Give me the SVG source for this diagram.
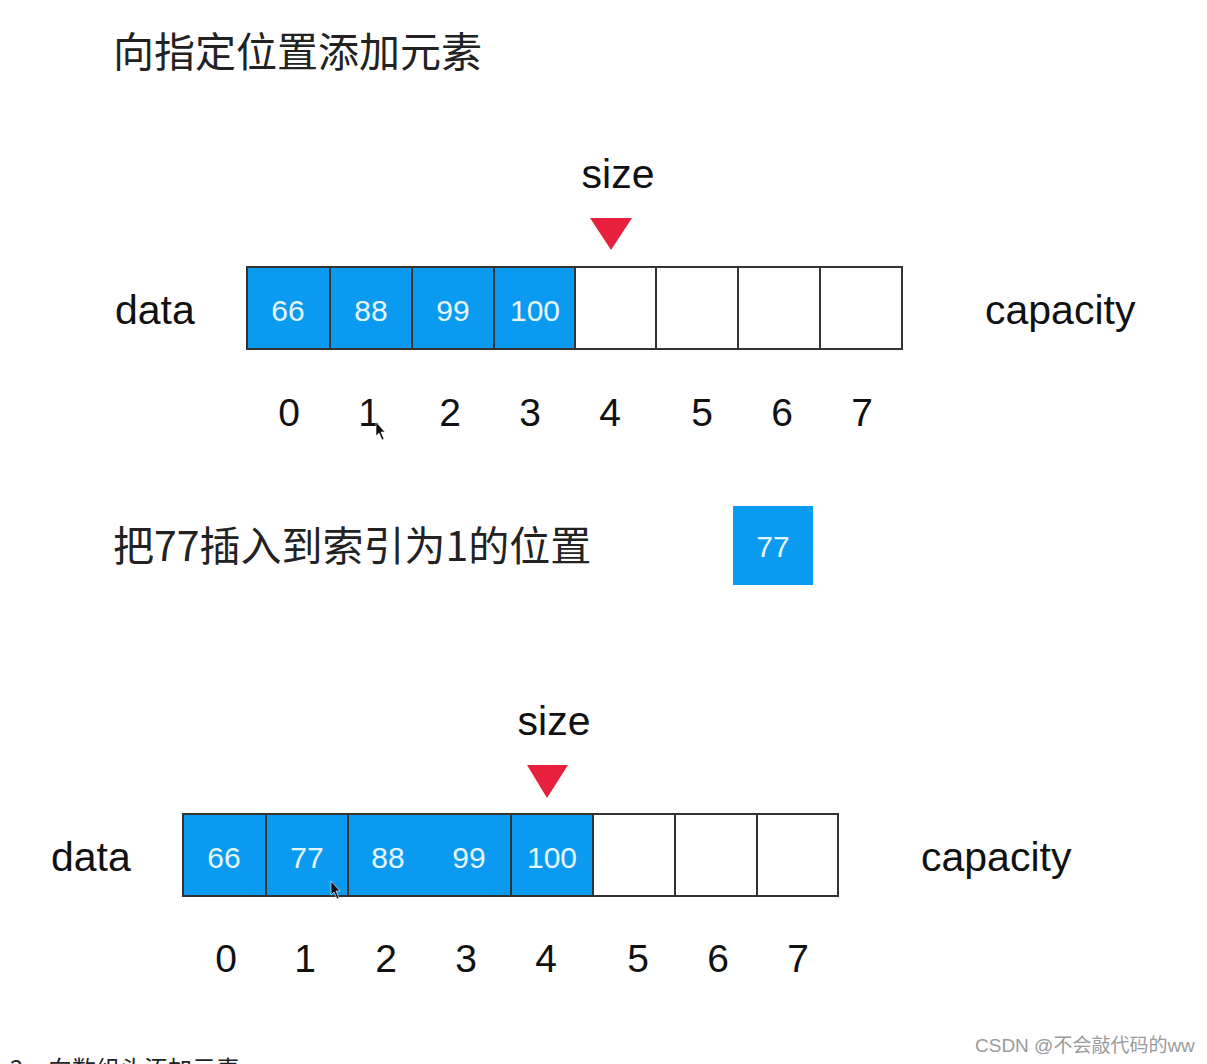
<svg xmlns="http://www.w3.org/2000/svg" width="1207" height="1064" viewBox="0 0 1207 1064">
<style>
.cjk{font-family:"Noto Sans CJK SC","Liberation Sans",sans-serif;fill:#222}
.lbl{font-family:"Liberation Sans",Arial,sans-serif;font-size:41px;fill:#111}
.idx{font-family:"Liberation Sans",Arial,sans-serif;font-size:39px;fill:#111;text-anchor:middle}
.val{font-family:"Liberation Sans",Arial,sans-serif;font-size:30px;fill:#e6f5ff;text-anchor:middle}
.blue{fill:#0A9BF0}
.cell{fill:#fff}
.frame{fill:none;stroke:#333;stroke-width:2}
.tri{fill:#E8203D}
.cur{fill:#111;stroke:#fff;stroke-width:0.6}
</style>
<rect width="1207" height="1064" fill="#fff"/>
<text class="cjk" x="113" y="67" font-size="41">向指定位置添加元素</text>

<g id="top-array">
  <rect class="blue" x="247" y="267" width="328" height="82"/>
  <rect class="cell" x="575" y="267" width="327" height="82"/>
  <rect class="frame" x="247" y="267" width="655" height="82"/>
  <path d="M330 267V349M412 267V349M494 267V349M575 267V349M656 267V349M738 267V349M820 267V349" stroke="#333" stroke-width="2"/>
  <text class="val" x="288" y="321">66</text>
  <text class="val" x="371" y="321">88</text>
  <text class="val" x="453" y="321">99</text>
  <text class="val" x="535" y="321">100</text>
</g>
<g id="top-labels">
  <text class="lbl" x="115" y="324">data</text>
  <text class="lbl" x="985" y="324">capacity</text>
  <text class="lbl" x="618" y="188" text-anchor="middle">size</text>
  <polygon class="tri" points="590,218 632,218 611,250"/>
  <text class="idx" x="289" y="426">0</text>
  <text class="idx" x="369" y="426">1</text>
  <text class="idx" x="450" y="426">2</text>
  <text class="idx" x="530" y="426">3</text>
  <text class="idx" x="610" y="426">4</text>
  <text class="idx" x="702" y="426">5</text>
  <text class="idx" x="782" y="426">6</text>
  <text class="idx" x="862" y="426">7</text>
  <polygon class="cur" points="376,422 376,436 379,433 382,440 384,439 381,432 385,432"/>
</g>

<text class="cjk" x="113" y="561" font-size="41">把77插入到索引为1的位置</text>
<g id="box77">
  <rect class="blue" x="733" y="506" width="80" height="79"/>
  <text class="val" x="773" y="557">77</text>
</g>

<g id="bottom-array">
  <rect class="blue" x="183" y="814" width="410" height="82"/>
  <rect class="cell" x="593" y="814" width="245" height="82"/>
  <rect class="frame" x="183" y="814" width="655" height="82"/>
  <path d="M266 814V896M348 814V896M511 814V896M593 814V896M675 814V896M757 814V896" stroke="#333" stroke-width="2"/>
  <text class="val" x="224" y="868">66</text>
  <text class="val" x="307" y="868">77</text>
  <text class="val" x="388" y="868">88</text>
  <text class="val" x="469" y="868">99</text>
  <text class="val" x="552" y="868">100</text>
</g>
<g id="bottom-labels">
  <text class="lbl" x="51" y="871">data</text>
  <text class="lbl" x="921" y="871">capacity</text>
  <text class="lbl" x="554" y="735" text-anchor="middle">size</text>
  <polygon class="tri" points="527,765 568,765 547,798"/>
  <text class="idx" x="226" y="972">0</text>
  <text class="idx" x="305" y="972">1</text>
  <text class="idx" x="386" y="972">2</text>
  <text class="idx" x="466" y="972">3</text>
  <text class="idx" x="546" y="972">4</text>
  <text class="idx" x="638" y="972">5</text>
  <text class="idx" x="718" y="972">6</text>
  <text class="idx" x="798" y="972">7</text>
  <polygon class="cur" points="331,881 331,895 334,892 337,899 339,898 336,891 340,891"/>
</g>

<text class="cjk" y="1078" font-size="24" fill="#222"><tspan x="10">2.</tspan><tspan x="48">向数组头添加元素</tspan></text>
<text x="975" y="1052" font-family="Liberation Sans,Noto Sans CJK SC,sans-serif" font-size="19" fill="#9a9a9a">CSDN @不会敲代码的ww</text>
</svg>
